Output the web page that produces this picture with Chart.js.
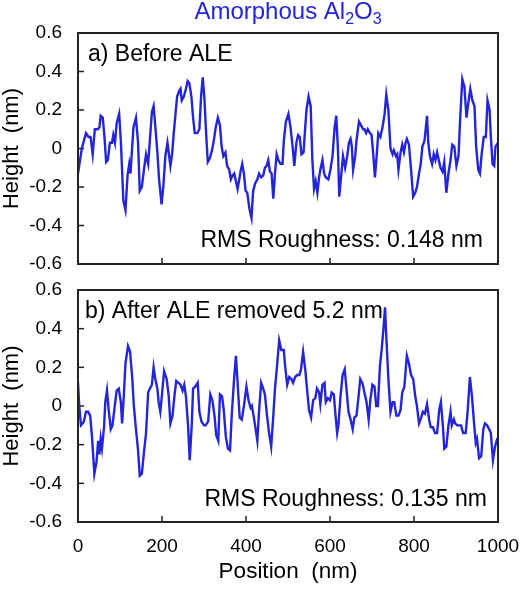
<!DOCTYPE html>
<html>
<head>
<meta charset="utf-8">
<script src="https://cdn.jsdelivr.net/npm/chart.js@4.4.1/dist/chart.umd.min.js"></script>
<style>
  html, body { margin: 0; padding: 0; background: #fff; }
  #wrap { position: relative; width: 520px; height: 589px; overflow: hidden; }
  canvas { position: absolute; left: 0; }
  #chartA { top: 0; }
  #chartB { top: 270px; }
  .frame { position: absolute; box-sizing: border-box; border: 2px solid #222; pointer-events: none; }
</style>
</head>
<body>
<div id="wrap">
  <canvas id="chartA" width="520" height="270"></canvas>
  <canvas id="chartB" width="520" height="319"></canvas>
</div>
<script>
// a) before ALE profile
const posA = [0,9,19,25,30,35,40,47,51,54,59,63,67,71,76,81,84,88,92,98,102,108,113,118,122,125,132,138,143,147,
  152,157,162,167,171,176,180,185,189,193,199,203,208,213,216,220,224,228,233,236,241,244,247,252,257,261,265,270,274,278,
  284,289,293,297,301,305,309,314,319,324,328,333,338,342,346,351,355,360,364,368,372,376,380,384,387,391,395,399,403,408,
  413,417,422,427,431,436,441,445,449,453,457,461,465,469,473,477,482,487,490,495,501,506,511,515,520,524,528,532,537,541,
  544,549,554,558,562,566,570,574,577,582,586,590,596,601,606,611,615,619,622,627,631,636,641,645,649,652,655,660,663,669,
  674,679,682,686,690,695,699,703,707,711,715,720,725,730,734,739,744,749,752,757,760,763,768,772,776,780,783,788,793,798,
  803,807,812,816,820,825,831,834,838,843,847,851,855,858,863,868,872,877,882,887,891,896,901,906,910,915,920,925,929,934,
  939,944,948,953,957,961,966,971,975,980,983,987,991,994,1000];
const heightA = [-0.13,0,0.08,0.06,0.06,-0.03,0.1,0.1,0.11,0.17,0.16,0.06,-0.07,-0.06,0.03,0.03,0.07,0.03,0.13,0.18,
  0.04,-0.27,-0.32,-0.14,-0.08,-0.13,0.11,0.16,0.03,-0.22,-0.2,-0.11,-0.03,-0.08,0.04,0.19,0.22,0.09,-0.02,-0.16,
  -0.29,-0.2,-0.04,0.03,-0.02,-0.09,-0.03,0.08,0.2,0.27,0.3,0.31,0.25,0.27,0.31,0.35,0.34,0.27,0.16,0.08,
  0.08,0.1,0.27,0.37,0.26,0.08,-0.07,-0.05,-0.01,0.05,0.11,0.16,0.12,0.01,-0.04,-0.02,-0.09,-0.11,-0.16,-0.14,
  -0.13,-0.17,-0.21,-0.16,-0.12,-0.08,-0.13,-0.22,-0.23,-0.31,-0.36,-0.22,-0.18,-0.16,-0.13,-0.15,-0.14,-0.1,-0.09,-0.06,
  -0.12,-0.13,-0.26,-0.13,-0.03,-0.06,-0.08,-0.08,0.04,0.14,0.18,0.11,0.01,-0.09,0.03,0.07,0.06,-0.03,-0.02,0.11,
  0.2,0.27,0.22,-0.06,-0.21,-0.17,-0.23,-0.15,-0.11,-0.06,-0.13,-0.15,-0.16,-0.11,-0.04,0.11,0.17,-0.01,-0.25,-0.13,
  -0.04,-0.1,-0.04,0.03,0.05,0.01,-0.11,-0.04,0.04,0.14,0.12,0.1,0.1,0.08,0.1,0.08,0.07,-0.03,-0.15,-0.04,
  0.08,0.06,0.11,0.18,0.28,0.2,0,-0.03,-0.01,-0.04,-0.03,-0.11,-0.02,0.02,-0.02,0.03,0.05,0.02,-0.11,-0.25,
  -0.23,-0.2,-0.13,-0.08,0.01,0.04,0.17,0.03,-0.04,-0.08,-0.03,-0.06,-0.02,-0.05,-0.1,-0.12,-0.07,-0.23,-0.13,-0.06,
  0.02,0.01,-0.09,-0.04,0.16,0.36,0.32,0.16,0.23,0.31,0.25,0.22,0.01,-0.11,-0.13,-0.03,0.06,0.06,0.25,0.2,
  0.06,-0.08,-0.09,0.01,0.03];

// b) after ALE profile
const posB = [0,3,7,11,14,19,24,29,33,39,44,48,51,54,57,62,65,69,73,78,82,87,92,97,102,105,109,113,119,124,
  129,133,138,143,147,152,157,162,167,171,176,180,184,189,192,196,200,205,211,216,220,225,230,234,239,244,249,253,257,262,
  266,271,274,279,285,289,294,300,304,310,315,320,325,329,334,338,343,347,352,357,362,366,371,376,380,385,390,395,401,406,
  411,414,418,423,427,431,436,441,445,450,455,460,465,469,474,479,484,490,493,498,503,508,512,517,522,527,531,536,541,546,
  550,555,560,565,569,574,577,582,587,590,595,600,604,609,612,617,620,625,630,635,640,644,649,654,658,663,668,672,677,682,
  687,692,696,701,706,710,714,719,723,728,731,734,739,744,749,753,758,763,768,772,777,783,788,793,798,803,807,812,817,821,
  826,831,836,840,845,850,855,860,864,869,872,877,882,887,890,895,898,903,908,912,917,923,928,933,938,943,947,950,955,960,
  965,969,974,979,983,988,993,998,1000];
const heightB = [0.12,0,-0.1,-0.09,-0.08,-0.03,-0.03,-0.05,-0.15,-0.35,-0.29,-0.18,-0.25,-0.17,-0.22,-0.11,0.02,0.08,-0.02,-0.12,
  -0.1,-0.01,0.08,0.09,0.02,-0.09,0.05,0.22,0.31,0.28,0.15,0,-0.12,-0.23,-0.36,-0.35,-0.24,-0.14,0.07,0.09,
  0.11,0.2,0.14,0.09,0.02,-0.03,0.06,0.18,0.14,0.05,-0.09,-0.05,0.06,0.13,0.12,0.11,0.08,0.11,0.05,-0.1,
  -0.28,-0.09,0.09,0.1,0.12,-0.03,-0.08,-0.1,-0.1,-0.08,0.06,0.03,-0.05,-0.15,-0.18,0.06,0.05,-0.02,-0.16,-0.22,
  -0.23,-0.05,0.12,0.26,0.12,-0.06,-0.07,0,0.1,0.03,-0.01,0,-0.05,-0.12,-0.18,-0.03,0.12,0.09,0.06,-0.05,
  -0.14,-0.21,-0.05,0.09,0.21,0.34,0.29,0.29,0.21,0.11,0.15,0.14,0.12,0.15,0.16,0.16,0.19,0.28,0.19,0.07,
  -0.02,-0.06,0.03,0.04,0.09,0.07,0.01,0.11,0.12,0.02,0.04,0.03,0.07,0.06,-0.02,-0.14,-0.1,0.05,0.16,0.19,
  0.07,-0.03,-0.07,-0.12,-0.06,-0.05,0.05,0.14,0.12,0.07,0.02,-0.07,0.03,0.11,0.1,0,0,0.21,0.29,0.42,
  0.51,0.36,0.14,-0.03,0.02,0.02,-0.05,-0.05,-0.02,0.07,0.1,0.26,0.22,0.16,0.14,0.05,0,-0.09,-0.06,-0.03,
  -0.04,0.01,-0.07,-0.11,-0.11,-0.14,-0.14,-0.02,0.02,-0.11,-0.22,-0.21,-0.1,-0.03,-0.1,-0.07,-0.09,-0.1,-0.1,-0.1,
  -0.14,-0.14,-0.02,0.15,0.05,-0.09,-0.19,-0.17,-0.27,-0.26,-0.12,-0.09,-0.1,-0.12,-0.14,-0.28,-0.21,-0.17,-0.17];

const xTicks = [0, 200, 400, 600, 800, 1000];
const yTicks = [-0.6, -0.4, -0.2, 0, 0.2, 0.4, 0.6];
// title pieces: [text, is subscript]
const titleParts = [['Amorphous Al', false], ['2', true], ['O', false], ['3', true]];

const LINE = '#2424d8';
const FONT = "'Liberation Sans', Arial, sans-serif";

// frame + inward ticks go in before the line, notes and title after it
const panelPlugin = {
  id: 'panel',
  beforeDatasetsDraw(chart) {
    const { ctx, chartArea: a, scales } = chart;
    const w = a.right - a.left, h = a.bottom - a.top;
    ctx.save();
    ctx.fillStyle = '#222';
    ctx.fillRect(a.left - 1, a.top - 1, w + 2, 2);
    ctx.fillRect(a.left - 1, a.bottom - 1, w + 2, 2);
    ctx.fillRect(a.left - 1, a.top - 1, 2, h + 2);
    ctx.fillRect(a.right - 1, a.top - 1, 2, h + 2);
    xTicks.slice(1, -1).forEach(v => {
      const px = scales.x.getPixelForValue(v);
      ctx.fillRect(px - 0.75, a.bottom - 6, 1.5, 6);
    });
    yTicks.slice(1, -1).forEach(v => {
      const py = scales.y.getPixelForValue(v);
      ctx.fillRect(a.left, py - 0.75, 6, 1.5);
    });
    ctx.restore();
  },
  afterDraw(chart, args, opts) {
    const { ctx, chartArea: a } = chart;
    ctx.save();
    ctx.fillStyle = '#000';
    ctx.font = '23px ' + FONT;
    ctx.textBaseline = 'alphabetic';
    ctx.textAlign = 'left';
    ctx.fillText(opts.label, a.left + opts.labelDx, a.top + 28);
    ctx.textAlign = 'right';
    ctx.fillText(opts.rms, a.right - opts.rmsDx, a.bottom - opts.rmsDy);
    if (opts.showTitle) {
      const fontFor = sub => (sub ? '16px ' : '24px ') + FONT;
      let total = 0;
      titleParts.forEach(([t, sub]) => { ctx.font = fontFor(sub); total += ctx.measureText(t).width; });
      let x = (a.left + a.right) / 2 - total / 2;
      ctx.fillStyle = LINE;
      ctx.textAlign = 'left';
      titleParts.forEach(([t, sub]) => {
        ctx.font = fontFor(sub);
        ctx.fillText(t, x, sub ? 24 : 19);
        x += ctx.measureText(t).width;
      });
    }
    ctx.restore();
  }
};

function makeChart(id, pos, height, showX, notes) {
  return new Chart(document.getElementById(id), {
    type: 'line',
    data: {
      datasets: [{
        data: pos.map((x, i) => ({ x, y: height[i] })),
        borderColor: LINE,
        borderWidth: 2.4,
        pointRadius: 0,
        tension: 0,
        fill: false
      }]
    },
    options: {
      responsive: false,
      animation: false,
      layout: { padding: showX ? { top: 20, right: 22, bottom: 5, left: 0 } : { top: 33, right: 22, bottom: 6, left: 0 } },
      plugins: { legend: { display: false }, tooltip: { enabled: false }, panel: notes },
      scales: {
        x: {
          type: 'linear', min: 0, max: 1000,
          afterBuildTicks: s => { s.ticks = xTicks.map(v => ({ value: v })); },
          afterFit: s => { s.height = showX ? 62 : 0; s.paddingLeft = 0; s.paddingRight = 0; },
          grid: { display: false, drawTicks: false },
          border: { display: false },
          ticks: { display: showX, padding: 13, color: '#000', maxRotation: 0, autoSkip: false,
                   font: { family: FONT, size: 19 }, callback: v => String(v) },
          title: { display: showX, text: 'Position  (nm)', color: '#000', padding: 0, font: { family: FONT, size: 22.5, lineHeight: 1.1 } }
        },
        y: {
          min: -0.6, max: 0.6,
          afterBuildTicks: s => { s.ticks = yTicks.map(v => ({ value: v })); },
          afterFit: s => { s.width = 78; s.paddingTop = 0; s.paddingBottom = 0; },
          grid: { display: false, drawTicks: false },
          border: { display: false },
          ticks: { padding: 16, color: '#000', font: { family: FONT, size: 19 }, callback: v => String(+v.toFixed(1)) },
          title: { display: true, text: 'Height  (nm)', color: '#000', padding: 0, font: { family: FONT, size: 22, lineHeight: 1.1 } }
        }
      }
    },
    plugins: [panelPlugin]
  });
}

// box outline over each plot area, sized from the chart's own layout
function addFrame(chart) {
  const a = chart.chartArea;
  const cv = chart.canvas;
  const d = document.createElement('div');
  d.className = 'frame';
  d.style.left = (cv.offsetLeft + a.left - 1) + 'px';
  d.style.top = (cv.offsetTop + a.top - 1) + 'px';
  d.style.width = (a.right - a.left + 2) + 'px';
  d.style.height = (a.bottom - a.top + 2) + 'px';
  document.getElementById('wrap').appendChild(d);
}

const chartA = makeChart('chartA', posA, heightA, false,
  { label: 'a) Before ALE', labelDx: 10, rms: 'RMS Roughness: 0.148 nm', rmsDx: 15, rmsDy: 17, showTitle: true });
const chartB = makeChart('chartB', posB, heightB, true,
  { label: 'b) After ALE removed 5.2 nm', labelDx: 7, rms: 'RMS Roughness: 0.135 nm', rmsDx: 11, rmsDy: 16, showTitle: false });
addFrame(chartA);
addFrame(chartB);
</script>
</body>
</html>
